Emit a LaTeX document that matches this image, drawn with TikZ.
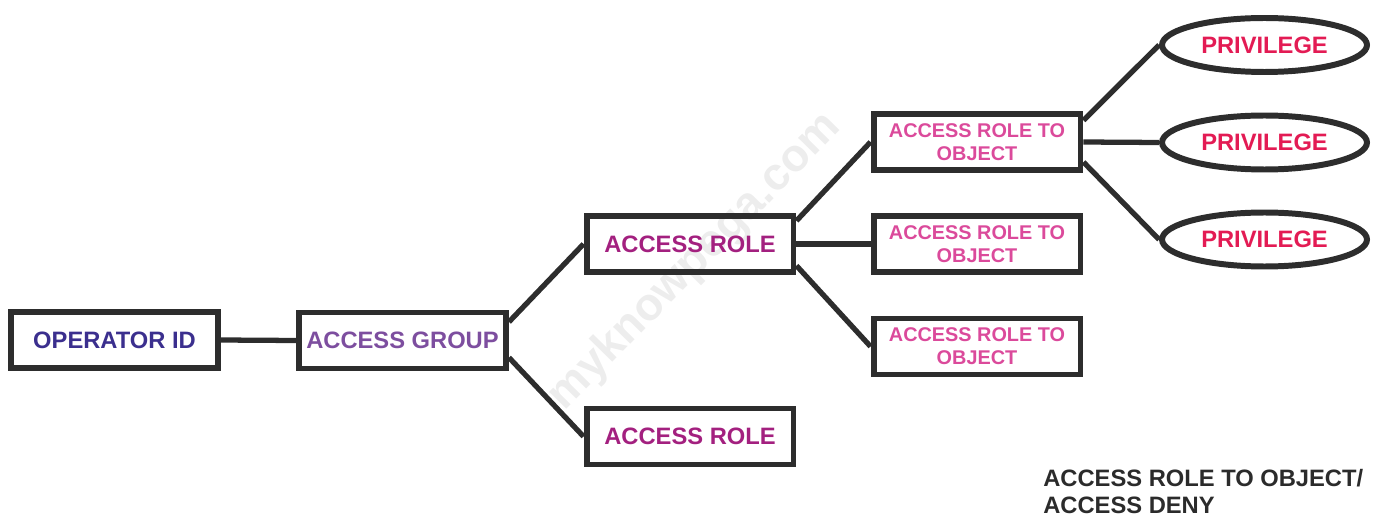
\documentclass[tikz,border=0pt]{standalone}
\usepackage{fontspec}
\setmainfont{Liberation Sans}
\usetikzlibrary{calc,shapes.geometric}
\definecolor{linegray}{HTML}{2D2D2D}
\definecolor{opblue}{HTML}{3B2F8E}
\definecolor{grpurple}{HTML}{7D4E9F}
\definecolor{rolemag}{HTML}{A3207F}
\definecolor{objpink}{HTML}{DB4A9B}
\definecolor{privred}{HTML}{E31B54}
\definecolor{capgray}{HTML}{2B2B2B}

\begin{document}
\begin{tikzpicture}[x=0.02cm,y=-0.02cm,
	box/.style={draw=linegray, line width=3.4pt, minimum width=4.14cm, minimum height=1.12cm, inner sep=0pt, text=#1, font=\fontsize{13.5}{15}\selectfont\bfseries},
	objbox/.style={box=objpink, align=center, font=\fontsize{11.3}{13}\selectfont\bfseries},
	priv/.style={ellipse, draw=linegray, line width=3.4pt, minimum width=4.1cm, minimum height=1.08cm, inner sep=0pt, text=privred, font=\fontsize{13.5}{15}\selectfont\bfseries},
	link/.style={draw=linegray, line width=3pt}]
	\useasboundingbox (0,0) rectangle (1379,530);
	\node[rotate=45.5, text=black!7, font=\fontsize{26}{26}\selectfont\bfseries] (mark) at (695,262) {myknowpega.com};
	% boxes
	\node[box=opblue] (opid) at (114.5,340) {OPERATOR ID};
	\node[box=grpurple] (grp) at (402.5,340.5) {ACCESS GROUP};
	\node[box=rolemag] (roleA) at (690,244) {ACCESS ROLE};
	\node[box=rolemag] (roleB) at (690,436.5) {ACCESS ROLE};
	\node[objbox] (objA) at (977,142) {ACCESS ROLE TO\\OBJECT};
	\node[objbox] (objB) at (977,244) {ACCESS ROLE TO\\OBJECT};
	\node[objbox] (objC) at (977,346.5) {ACCESS ROLE TO\\OBJECT};
	\node[priv] (privA) at (1264.5,45) {PRIVILEGE};
	\node[priv] (privB) at (1264.5,142.5) {PRIVILEGE};
	\node[priv] (privC) at (1264.5,239.5) {PRIVILEGE};
	\node[anchor=north west, inner sep=0pt, align=left, text=capgray, font=\fontsize{13.5}{15.3}\selectfont\bfseries] (cap) at (1043,469) {ACCESS ROLE TO OBJECT/\\ACCESS DENY};
	% links
	\draw[link] (opid.east) -- (grp.west);
	\draw[link] ($(grp.east)!0.6!(grp.north east)$) -- (roleA.west);
	\draw[link] ($(grp.east)!0.55!(grp.south east)$) -- (roleB.west);
	\draw[link] ($(roleA.east)!0.75!(roleA.north east)$) -- (objA.west);
	\draw[link] (roleA.east) -- (objB.west);
	\draw[link] ($(roleA.east)!0.7!(roleA.south east)$) -- (objC.west);
	\draw[link] ($(objA.east)!0.7!(objA.north east)$) -- (privA.west);
	\draw[link] (objA.east) -- (privB.west);
	\draw[link] ($(objA.east)!0.65!(objA.south east)$) -- (privC.west);
\end{tikzpicture}
\end{document}
